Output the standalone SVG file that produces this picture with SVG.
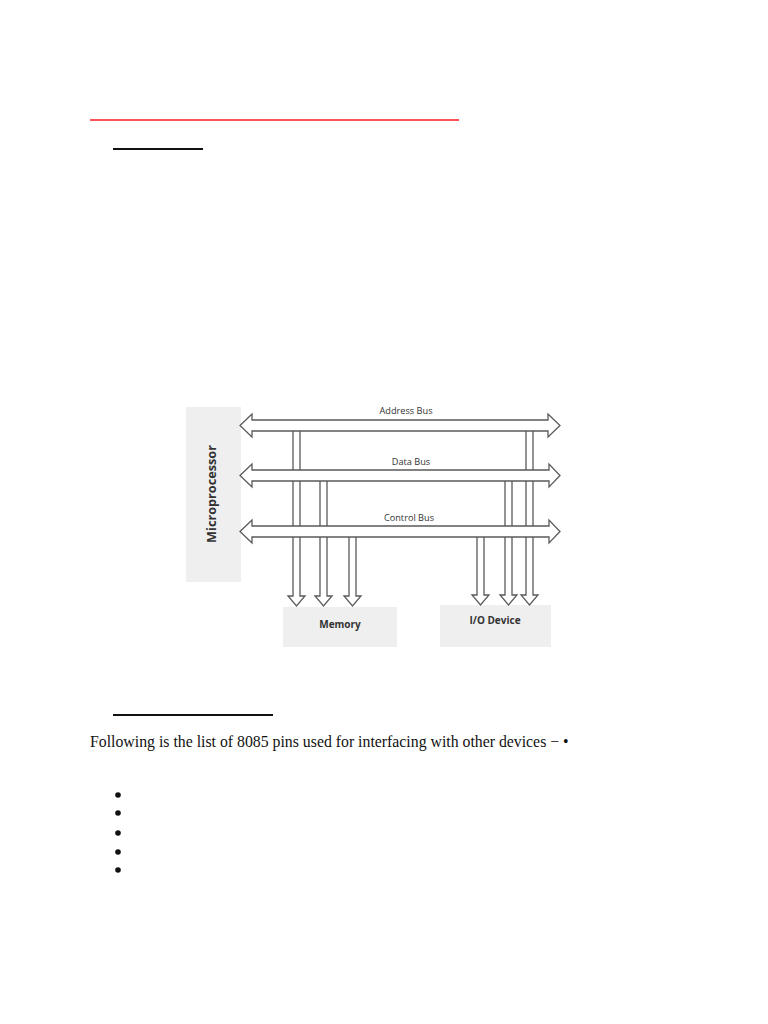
<svg xmlns="http://www.w3.org/2000/svg" width="768" height="1024" viewBox="0 0 768 1024">
  <style>
    .box { fill: #efefef; }
    .nodelabel { font-family: "Open Sans", "Noto Sans", sans-serif; font-weight: bold; font-size: 10px; fill: #333; }
    .buslabel { font-family: "Open Sans", "Noto Sans", sans-serif; font-size: 9.2px; fill: #333; }
    .arrow { fill: #fff; stroke: #5a5a5a; stroke-width: 1.3; stroke-linejoin: miter; }
    .body { font-family: "Liberation Serif", "Times New Roman", serif; font-size: 15.8px; fill: #111; }
  </style>
  <rect width="768" height="1024" fill="#fff"/>

  <!-- page decorations -->
  <line x1="90" y1="120" x2="459" y2="120" stroke="#ff1a1a" stroke-width="1.3"/>
  <line x1="113" y1="149" x2="203" y2="149" stroke="#111" stroke-width="2"/>
  <line x1="113" y1="715" x2="273" y2="715" stroke="#111" stroke-width="2"/>
  <text class="body" x="90" y="747">Following is the list of 8085 pins used for interfacing with other devices − •</text>
  <g fill="#111">
    <circle cx="118" cy="795" r="2.8"/>
    <circle cx="118" cy="813" r="2.8"/>
    <circle cx="118" cy="833" r="2.8"/>
    <circle cx="118" cy="852" r="2.8"/>
    <circle cx="118" cy="870" r="2.8"/>
  </g>

  <!-- nodes -->
  <g id="microprocessor">
    <rect class="box" x="186" y="407" width="55" height="175"/>
    <text class="nodelabel" style="font-size:12.7px" transform="translate(216,494) rotate(-90)" text-anchor="middle">Microprocessor</text>
  </g>
  <g id="memory">
    <rect class="box" x="283" y="607" width="114" height="40"/>
    <text class="nodelabel" x="340" y="628" text-anchor="middle">Memory</text>
  </g>
  <g id="io-device">
    <rect class="box" x="440" y="605" width="111" height="42"/>
    <text class="nodelabel" x="495" y="624" text-anchor="middle">I/O Device</text>
  </g>

  <!-- connectors -->
  <g id="connectors">
    <!-- vertical arrows (drawn first; buses cover their tops) -->
    <polygon class="arrow" points="293,426 300,426 300,596 305,596 296.5,606 288,596 293,596"/>
    <polygon class="arrow" points="320,476 327,476 327,596 332,596 323.5,606 315,596 320,596"/>
    <polygon class="arrow" points="349,532 356,532 356,596 361,596 352.5,606 344,596 349,596"/>
    <polygon class="arrow" points="477,532 484,532 484,595 489,595 480.5,605 472,595 477,595"/>
    <polygon class="arrow" points="505,476 512,476 512,595 517,595 508.5,605 500,595 505,595"/>
    <polygon class="arrow" points="526,426 533,426 533,595 538,595 529.5,605 521,595 526,595"/>

    <!-- buses -->
    <polygon id="address-bus" class="arrow" points="240,425.5 252,414 252,420 548,420 548,414 560,425.5 548,437 548,431 252,431 252,437"/>
    <polygon id="data-bus" class="arrow" points="240,475.5 252,464 252,470 549,470 549,464 560,475.5 549,487 549,481 252,481 252,487"/>
    <polygon id="control-bus" class="arrow" points="240,531.5 252,520 252,526 549,526 549,520 560,531.5 549,543 549,537 252,537 252,543"/>

    <text class="buslabel" x="406" y="414" text-anchor="middle">Address Bus</text>
    <text class="buslabel" x="411" y="465" text-anchor="middle">Data Bus</text>
    <text class="buslabel" x="409" y="521" text-anchor="middle">Control Bus</text>
  </g>
</svg>
